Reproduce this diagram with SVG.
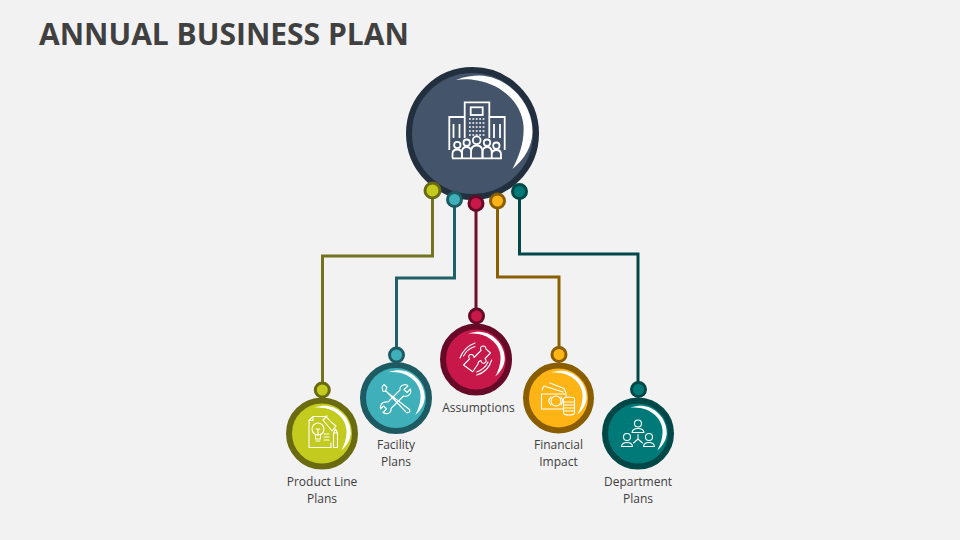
<svg xmlns="http://www.w3.org/2000/svg" width="960" height="540" viewBox="0 0 960 540">
<style>
.title{font:bold 30px "Open Sans","Liberation Sans",sans-serif;fill:#404040}
.lbl{font:12px "Open Sans","Liberation Sans",sans-serif;fill:#404040;text-anchor:middle}
.wire{fill:none;stroke-width:3}
.ic{fill:none;stroke:#fff;stroke-width:1.1;stroke-linejoin:round;stroke-linecap:round}
.ic2{fill:none;stroke:#fff;stroke-width:1.8}
.olive .r,.olive .d{fill:#c4cb1f;stroke:#6a6a10}
.teal .r,.teal .d{fill:#3fb0ba;stroke:#1d5a62}
.crim .r,.crim .d{fill:#c8184a;stroke:#660a28}
.amb .r,.amb .d{fill:#fdb414;stroke:#8a5e00}
.dteal .r,.dteal .d{fill:#007a78;stroke:#004748}
.r{stroke-width:6}
.d{stroke-width:3}
</style>
<defs>
<path id="shine" d="M-16.5-53.5C-8-57 0-58 7-58C34-57.500 60-32 60-2C60 12 52 26 40 35.500C47 22 52 8 51-8C49-32 28-49 5-53C-3-54.500-10-54.500-16.500-53.500Z" fill="#fff"/>
</defs>
<rect width="960" height="540" fill="#f2f2f2"/>
<text class="title" x="39" y="45">ANNUAL BUSINESS PLAN</text>
<g id="connectors">
<path class="wire" stroke="#73731e" d="M432.5 190V256H322.5V390"/>
<path class="wire" stroke="#1f5f66" d="M454.5 199V278H396.5V355"/>
<path class="wire" stroke="#6b0f2b" d="M476 203V316"/>
<path class="wire" stroke="#8a5f00" d="M497.5 201V277H559V354"/>
<path class="wire" stroke="#00474a" d="M519.5 191V254H638V389"/>
</g>
<g id="hub">
<circle cx="472.5" cy="133.5" r="63.500" fill="#44546a" stroke="#222f3e" stroke-width="6"/>
<use href="#shine" transform="translate(472.5 133.5)"/>
<g class="ic2">
<path d="M464.7 138V102.3H489.3V138"/>
<path d="M464.7 117H449.3V150M489.3 117H504.700V150"/>
<rect x="470.700" y="107.300" width="12" height="7.700"/>
<path d="M469 119H486M469 123H486M469 127H486M469 131H486M469 135H486" stroke-dasharray="1.800 1.600" stroke-width="1.500"/>
<path d="M453.500 124V138M459.500 124V138M494 124V138M500 124V138"/>
<path d="M452 158.300H502"/>
<circle cx="457.300" cy="145" r="3.200"/><circle cx="466.700" cy="142.700" r="3.200"/><circle cx="476.700" cy="140.300" r="3.900"/><circle cx="487" cy="142.700" r="3.200"/><circle cx="496.300" cy="145.700" r="3.200"/>
<path d="M452.500 158V154Q452.500 149.500 457.300 149.500Q461.500 149.500 462 154V158"/>
<path d="M462 158V152Q462 147 466.700 147Q470 147 471 150M471 158V152Q471 145.500 476.700 145.500Q482.500 145.500 482.500 152V158"/>
<path d="M482.500 158V152Q483 147 487 147Q491.500 147 491.700 152V158M491.700 154.500Q492 150 496.300 150Q501 150 501 154.500V158"/>
</g>
</g>
<g id="node-product" class="olive">
<circle class="d" cx="432.500" cy="190.500" r="7.500"/>
<circle class="d" cx="322.300" cy="390" r="7"/>
<circle class="r" cx="322" cy="433.500" r="33"/>
<use href="#shine" transform="translate(322 433.500) scale(.48)"/>
<g class="ic">
<path d="M309 431V420.500L313 416.500H326M309 431V447.500H331V443"/>
<path d="M313 416.500V420.500H309"/>
<path d="M326 416.500L331 422L336 426L332 431L323 420L327 416Z"/>
<circle cx="318" cy="429" r="6"/>
<path d="M315.500 435V439H320.500V435M316 441H320M316 429H320M318 429V435M324 434H329M324 437H329M324 440H329"/>
<path d="M333.500 433H337.500V447.500H333.500ZM333.500 433L335.500 429L337.500 433"/>
</g>
<text class="lbl" x="322" y="486">Product Line</text>
<text class="lbl" x="322" y="503">Plans</text>
</g>
<g id="node-facility" class="teal">
<circle class="d" cx="454.500" cy="199.500" r="7"/>
<circle class="d" cx="396.500" cy="355" r="7"/>
<circle class="r" cx="396" cy="398" r="33"/>
<use href="#shine" transform="translate(396 398) scale(.48)"/>
<g class="ic">
<path d="M384 384.500L387 387.500L385.500 390.500L388 393L409.500 409.500Q410.500 412 408.500 412.500Q407 413.500 405.500 411.500L386 391L383 391.500L382 387Z"/>
<path d="M403 385Q407 384 408 386L404 389.500L407 392.500L410.500 389Q411.500 393 409 395Q406.500 397 403.500 396L391 408.500Q391.500 411.500 389 413Q386 414.500 383 412.500L386.500 409L383.500 406L380.500 409Q380 405 382.500 403Q385 401.500 388 402L400 390Q399.500 386.500 403 385Z"/>
</g>
<text class="lbl" x="396" y="449">Facility</text>
<text class="lbl" x="396" y="466">Plans</text>
</g>
<g id="node-assumptions" class="crim">
<circle class="d" cx="476" cy="203.500" r="7"/>
<circle class="d" cx="476.500" cy="316" r="7"/>
<circle class="r" cx="476" cy="359.500" r="33"/>
<use href="#shine" transform="translate(476 359.500) scale(.48)"/>
<g class="ic">
<path d="M463.500 365L469.500 359Q467.500 355.500 470.500 354.500Q473.500 354 474 357.500L477 354.500L481 350.500Q479.500 347 482.500 346Q485.500 345.500 486 349L490.500 353L485 358.500Q487.500 361.500 484.500 363Q481.500 364 481 360.500Q478 361 478 364L472.700 371.700Z"/>
<path d="M460 358Q464 347 475 343M463.500 356Q467 349 475 346.500M476.700 375Q488 372 491.700 360M476.700 372Q485 369 488 362"/>
</g>
<text class="lbl" x="478.500" y="412">Assumptions</text>
</g>
<g id="node-financial" class="amb">
<circle class="d" cx="497.500" cy="201" r="7"/>
<circle class="d" cx="559" cy="354.500" r="7"/>
<circle class="r" cx="558.500" cy="398" r="32.500"/>
<use href="#shine" transform="translate(558.500 398) scale(.47)"/>
<g class="ic">
<path d="M542 390L544 386L563 392M550 383L564 388.500L566 393"/>
<path d="M541.500 394H566V409H541.500Z"/>
<circle cx="556" cy="401" r="5"/>
<path d="M551 397Q546.500 401 551 405M561 397Q564 401 561 405"/>
<path d="M563.500 399Q563.500 397 569 397Q574.500 397 574.500 399V413Q574.500 415 569 415Q563.500 415 563.500 413ZM563.500 402H574.500M563.500 405H574.500M563.500 408H574.500M563.500 411H574.500" fill="#fdb414"/>
</g>
<text class="lbl" x="558.500" y="449">Financial</text>
<text class="lbl" x="558.500" y="466">Impact</text>
</g>
<g id="node-department" class="dteal">
<circle class="d" cx="519.500" cy="191.500" r="7"/>
<circle class="d" cx="638.500" cy="389.500" r="7"/>
<circle class="r" cx="638" cy="433.500" r="33"/>
<use href="#shine" transform="translate(638 433.500) scale(.48)"/>
<g class="ic">
<circle cx="638" cy="423.500" r="3.500"/>
<path d="M632 432.500Q632.500 428.500 638 428.500Q643.500 428.500 644 432.500Z"/>
<circle cx="627" cy="437" r="3.500"/>
<path d="M621.500 446.500Q622 442.500 627 442.500Q632 442.500 632.500 446.500Z"/>
<circle cx="649" cy="437" r="3.500"/>
<path d="M643.500 446.500Q644 442.500 649 442.500Q654 442.500 654.500 446.500Z"/>
<path d="M638 434.500V439M638 439L633.500 443M638 439L642.500 443"/>
</g>
<text class="lbl" x="638" y="486">Department</text>
<text class="lbl" x="638" y="503">Plans</text>
</g>
</svg>
